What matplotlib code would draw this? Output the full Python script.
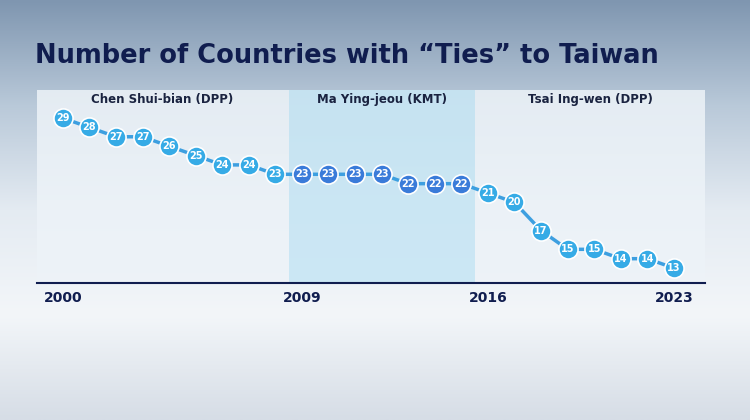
import matplotlib
matplotlib.use("Agg")
import matplotlib.pyplot as plt
import numpy as np
from matplotlib.colors import LinearSegmentedColormap

years = list(range(2000, 2024))
counts = [29, 28, 27, 27, 26, 25, 24, 24, 23, 23, 23, 23, 23, 22, 22, 22, 21, 20, 17, 15, 15, 14, 14, 13]
tick_years = [2000, 2009, 2016, 2023]
eras = [("Chen Shui-bian (DPP)", 1999.0, 2008.5), ("Ma Ying-jeou (KMT)", 2008.5, 2015.5), ("Tsai Ing-wen (DPP)", 2015.5, 2024.2)]

fig = plt.figure(figsize=(7.5, 4.2), dpi=100)
bg = fig.add_axes([0, 0, 1, 1])
grad = np.linspace(0, 1, 256).reshape(-1, 1)
cmap = LinearSegmentedColormap.from_list("bg", ["#7f96b0", "#b9c9d9", "#e4ebf2", "#f3f6f9", "#d6dde6"])
bg.imshow(grad, aspect="auto", cmap=cmap, extent=[0, 1, 0, 1], origin="upper")
bg.axis("off")
fig.text(0.047, 0.85, "Number of Countries with \u201cTies\u201d to Taiwan", fontsize=18.5, fontweight="bold", color="#101d4f")

ax = fig.add_axes([0.049, 0.326, 0.891, 0.46])
ax.set_xlim(1999.02, 2024.17)
ax.set_ylim(11.4, 32.0)
ax.axvspan(1999.02, 2008.5, color="#edf3f8", alpha=0.85, lw=0)
ax.axvspan(2008.5, 2015.5, color="#c8e6f4", alpha=0.9, lw=0)
ax.axvspan(2015.5, 2024.17, color="#edf3f8", alpha=0.85, lw=0)
ax.set_facecolor("none")
for name, a, b in eras:
    ax.text((a + b) / 2, 31.0, name, ha="center", va="center", fontsize=8.5, fontweight="bold", color="#1a2340")
ax.plot(years, counts, color="#3d9fe0", lw=2.5, zorder=2)
for y, c in zip(years, counts):
    col = "#3a7bd9" if 2009 <= y <= 2015 else "#36abe6"
    ax.scatter(y, c, s=190, color=col, edgecolor="white", linewidth=1.2, zorder=3)
    ax.text(y, c, str(c), ha="center", va="center", fontsize=7, fontweight="bold", color="white", zorder=4)
for s in ["top", "right", "left"]:
    ax.spines[s].set_visible(False)
ax.spines["bottom"].set_color("#101d4f")
ax.spines["bottom"].set_linewidth(1.5)
ax.set_yticks([])
ax.set_xticks(tick_years)
ax.set_xticklabels([str(t) for t in tick_years], fontsize=10, fontweight="bold", color="#101d4f")
ax.tick_params(axis="x", length=0, pad=6)
fig.savefig("out.png", dpi=100)
